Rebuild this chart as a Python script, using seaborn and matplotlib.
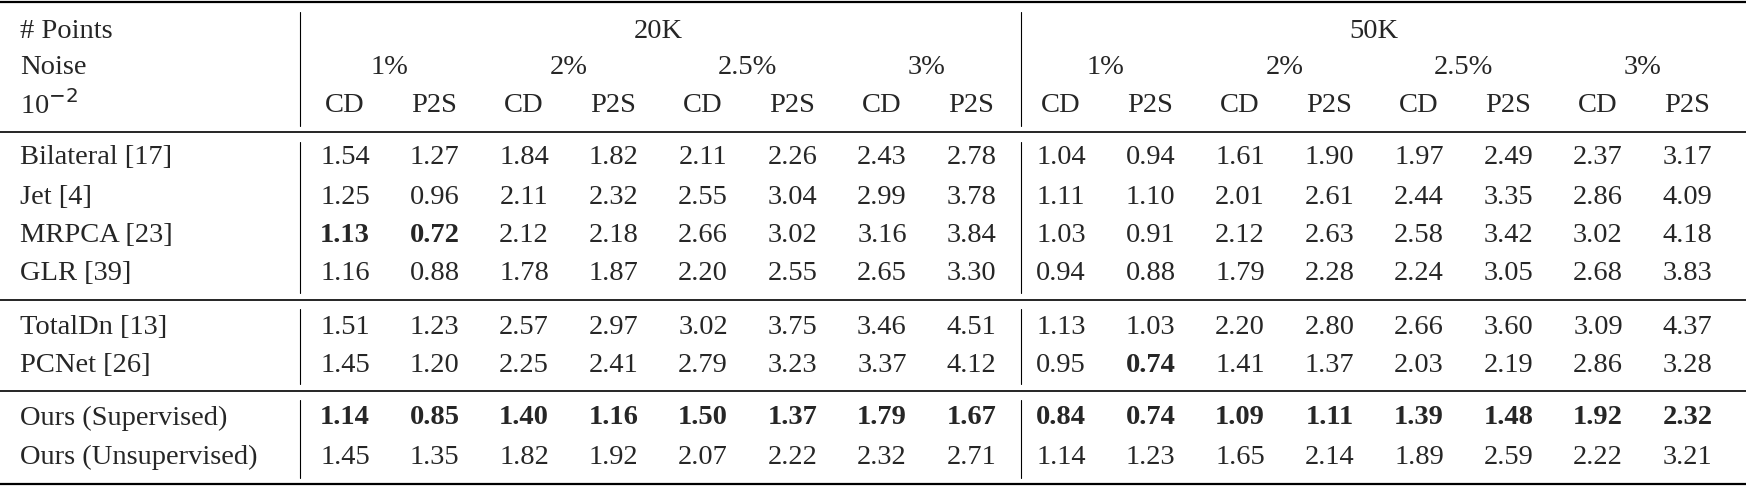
import matplotlib
matplotlib.use("Agg")
import matplotlib.pyplot as plt
import seaborn as sns

sns.set_theme(style="white")
plt.rcParams['font.family'] = ['Liberation Serif', 'DejaVu Serif']

point_groups = ["20K", "50K"]
noise_levels = ["1%", "2%", "2.5%", "3%"]
metrics = ["CD", "P2S"]
methods = ["Bilateral [17]", "Jet [4]", "MRPCA [23]", "GLR [39]",
           "TotalDn [13]", "PCNet [26]",
           "Ours (Supervised)", "Ours (Unsupervised)"]
values = [
    ["1.54", "1.27", "1.84", "1.82", "2.11", "2.26", "2.43", "2.78", "1.04", "0.94", "1.61", "1.90", "1.97", "2.49", "2.37", "3.17"],
    ["1.25", "0.96", "2.11", "2.32", "2.55", "3.04", "2.99", "3.78", "1.11", "1.10", "2.01", "2.61", "2.44", "3.35", "2.86", "4.09"],
    ["1.13", "0.72", "2.12", "2.18", "2.66", "3.02", "3.16", "3.84", "1.03", "0.91", "2.12", "2.63", "2.58", "3.42", "3.02", "4.18"],
    ["1.16", "0.88", "1.78", "1.87", "2.20", "2.55", "2.65", "3.30", "0.94", "0.88", "1.79", "2.28", "2.24", "3.05", "2.68", "3.83"],
    ["1.51", "1.23", "2.57", "2.97", "3.02", "3.75", "3.46", "4.51", "1.13", "1.03", "2.20", "2.80", "2.66", "3.60", "3.09", "4.37"],
    ["1.45", "1.20", "2.25", "2.41", "2.79", "3.23", "3.37", "4.12", "0.95", "0.74", "1.41", "1.37", "2.03", "2.19", "2.86", "3.28"],
    ["1.14", "0.85", "1.40", "1.16", "1.50", "1.37", "1.79", "1.67", "0.84", "0.74", "1.09", "1.11", "1.39", "1.48", "1.92", "2.32"],
    ["1.45", "1.35", "1.82", "1.92", "2.07", "2.22", "2.32", "2.71", "1.14", "1.23", "1.65", "2.14", "1.89", "2.59", "2.22", "3.21"],
]
bold_cells = [(2, 0), (2, 1), (5, 9)] + [(6, c) for c in range(16)]

fig = plt.figure(figsize=(17.46, 4.88), dpi=100)
ax = fig.add_axes([0, 0, 1, 1])
ax.set_xlim(0, 1746)
ax.set_ylim(488, 0)
ax.axis("off")

fs = 20.5
col_x = [345 + 89.5 * i for i in range(16)]
label_x = 20
hdr_y = [32, 68, 105]
row_y = [158, 197, 235, 273, 328, 365, 418, 457]

# header
ax.text(label_x, hdr_y[0], "# Points", fontsize=fs, va="center", ha="left")
ax.text(label_x, hdr_y[1], "Noise", fontsize=fs, va="center", ha="left")
ax.text(label_x, hdr_y[2], r"10$^{-2}$", fontsize=fs, va="center", ha="left")
for g, name in enumerate(point_groups):
    cx = (col_x[8 * g] + col_x[8 * g + 7]) / 2
    ax.text(cx, hdr_y[0], name, fontsize=fs, va="center", ha="center")
    for n, lv in enumerate(noise_levels):
        i = 8 * g + 2 * n
        ax.text((col_x[i] + col_x[i + 1]) / 2, hdr_y[1], lv, fontsize=fs, va="center", ha="center")
        for m, met in enumerate(metrics):
            ax.text(col_x[i + m], hdr_y[2], met, fontsize=fs, va="center", ha="center")

for r, name in enumerate(methods):
    ax.text(label_x, row_y[r], name, fontsize=fs, va="center", ha="left")
    for c, v in enumerate(values[r]):
        ax.text(col_x[c], row_y[r], v, fontsize=fs, va="center", ha="center",
                fontweight="bold" if (r, c) in bold_cells else "normal")

# rules
for y, lw in [(2, 1.6), (132, 1.2), (300, 1.2), (391, 1.2), (484, 1.6)]:
    ax.plot([0, 1746], [y, y], color="black", lw=lw)
for x in [300, 1021]:
    for y0, y1 in [(12, 126), (142, 293), (309, 384), (400, 478)]:
        ax.plot([x, x], [y0, y1], color="black", lw=0.8)

fig.savefig("out.png", dpi=100)
